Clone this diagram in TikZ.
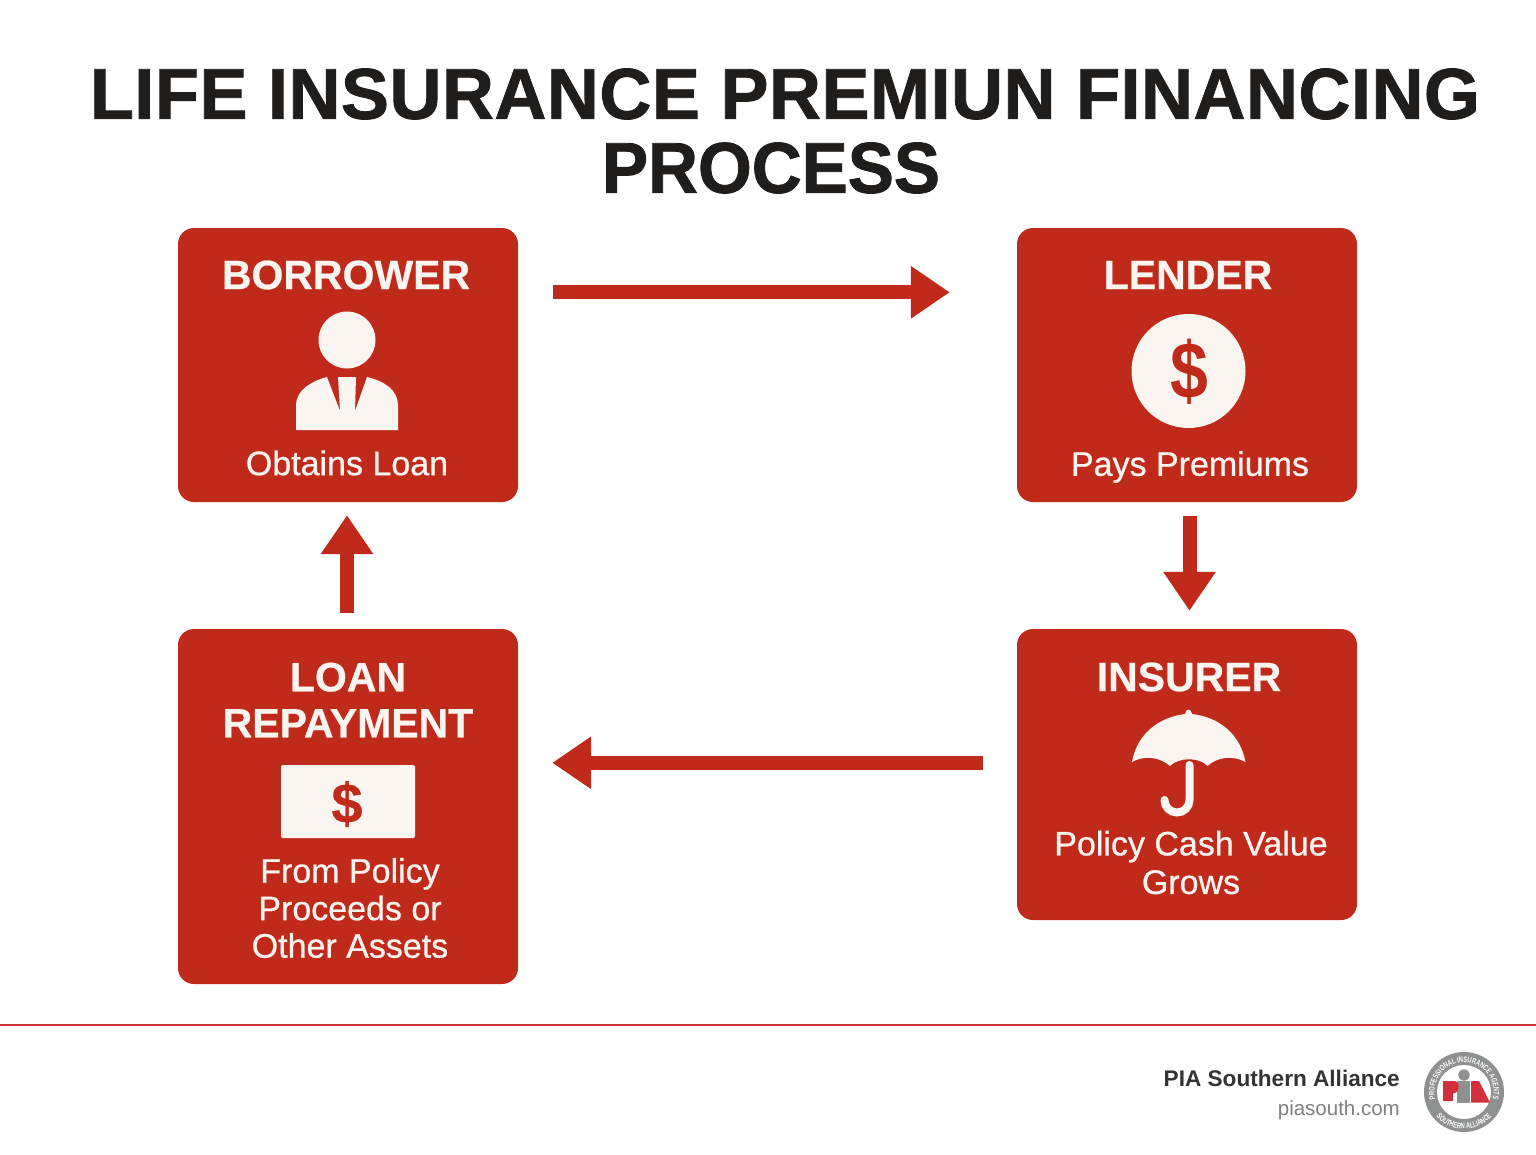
\documentclass[tikz,border=0pt]{standalone}
\usepackage{fontspec}
\setmainfont{Liberation Sans}
\newfontfamily\titlefont[BoldFeatures={FakeBold=1.2, LetterSpace=0.7}]{Liberation Sans}
\newfontfamily\titlenarrow[BoldFeatures={FakeBold=1.2, FakeStretch=0.96}]{Liberation Sans}
\newfontfamily\medfont[UprightFeatures={FakeBold=0.7}]{Liberation Sans}
\newfontfamily\headfont[BoldFeatures={FakeBold=0.5}]{Liberation Sans}
\newfontfamily\dollarfont[BoldFeatures={FakeStretch=0.85}]{Liberation Sans}
\newfontfamily\logofont[BoldFeatures={FakeStretch=0.72}]{Liberation Sans}
\usetikzlibrary{arrows.meta, positioning, decorations.text}
\definecolor{boxred}{HTML}{C02A1A}
\definecolor{offwhite}{HTML}{FAF5F0}
\definecolor{titleblack}{HTML}{1F1E1C}
\definecolor{rulered}{HTML}{D2303C}
\definecolor{logogray}{HTML}{8F9090}
\newcommand{\pxfont}[1]{\fontsize{#1}{#1}\selectfont}
\tikzset{
	stepbox/.style={fill=boxred, rounded corners=16pt, minimum width=340pt, inner sep=0pt},
	flowarrow/.style={draw=boxred, line width=14pt, -{Triangle[length=39pt, width=50pt]}},
	headlabel/.style={text=offwhite, font=\headfont\bfseries\pxfont{41}, inner sep=0pt},
	sublabel/.style={text=offwhite, font=\medfont\pxfont{34}, align=center, inner sep=0pt},
	iconfill/.style={fill=offwhite, draw=none},
}
\begin{document}
\begin{tikzpicture}[x=1pt, y=-1pt]
	\useasboundingbox (0,0) rectangle (1536,1154);
	\fill[white] (0,0) rectangle (1536,1154);

	% title
	\node[text=titleblack, font=\titlefont\bfseries\pxfont{72}, inner sep=0pt] (title1) at (785,94) {LIFE INSURANCE PREMIUN FINANCING};
	\node[text=titleblack, font=\titlenarrow\bfseries\pxfont{72}, inner sep=0pt] (title2) at (771,168) {PROCESS};

	% the four boxes
	\node[stepbox, minimum height=274pt] (borrower) at (348,365) {};
	\node[stepbox, minimum height=274pt] (lender) at (1187,365) {};
	\node[stepbox, minimum height=291pt] (insurer) at (1187,774.5) {};
	\node[stepbox, minimum height=355pt] (repayment) at (348,806.5) {};

	% arrows
	\draw[flowarrow] ([xshift=35pt, yshift=-64.5pt]borrower.north east) -- ([xshift=-67pt, yshift=-64.5pt]lender.north west);
	\draw[flowarrow] ([xshift=2.5pt, yshift=-14pt]lender.south) -- ([xshift=2.5pt, yshift=18pt]insurer.north);
	\draw[flowarrow] ([xshift=-34pt, yshift=-134pt]insurer.north west) -- ([xshift=34pt, yshift=-134pt]repayment.north east);
	\draw[flowarrow] ([xshift=-1pt, yshift=16pt]repayment.north) -- ([xshift=-1pt, yshift=-13pt]borrower.south);

	% borrower
	\node[headlabel] (borrowerhead) at (346,275) {BORROWER};
	\fill[iconfill] (347,340) circle (28.5pt);
	\fill[iconfill] (296,430) -- (296,405) .. controls (296,390) and (312,381) .. (327,377) -- (340,411) -- (338,377) -- (356,377) -- (355,411) -- (367,377) .. controls (384,381) and (398,390) .. (398,405) -- (398,430) -- cycle;
	\node[sublabel] (borrowersub) at (347,463) {Obtains Loan};

	% lender
	\node[headlabel] (lenderhead) at (1188,275) {LENDER};
	\fill[iconfill] (1188.5,371) circle (57pt);
	\node[text=boxred, font=\dollarfont\bfseries\pxfont{80}, inner sep=0pt] (lenderdollar) at (1189,372) {\$};
	\node[sublabel] (lendersub) at (1190,467) {Pays Premiums};

	% insurer
	\node[headlabel] (insurerhead) at (1189,677) {INSURER};
	\fill[iconfill] (1132,762) .. controls (1137,733) and (1160,717) .. (1185,714) .. controls (1186,708) and (1191,708) .. (1192,714) .. controls (1218,717) and (1240,733) .. (1245.5,762) .. controls (1233,755) and (1217,757) .. (1207.5,766) .. controls (1200,757) and (1178,757) .. (1170,766) .. controls (1160,757) and (1144,755) .. (1132,762) -- cycle;
	\draw[offwhite, line width=8pt, line cap=round] (1189.5,765) -- (1189.5,800) arc[start angle=0, end angle=-180, radius=12.5pt];
	\node[sublabel] (insurersub) at (1191,862.5) {Policy Cash Value\\[4.5pt]Grows};

	% repayment
	\node[headlabel, align=center] (repaymenthead) at (348,700) {LOAN\\[5pt]REPAYMENT};
	\fill[iconfill, rounded corners=2pt] (281,765) rectangle (415,838);
	\node[text=boxred, font=\headfont\bfseries\pxfont{56}, inner sep=0pt] (billdollar) at (347,804) {\$};
	\node[sublabel] (repaymentsub) at (350,908) {From Policy\\[3.5pt]Proceeds or\\[3.5pt]Other Assets};

	% footer
	\draw[rulered, line width=2.5pt] (0,1025) -- (1536,1025);
	\node[text=black!80, font=\bfseries\pxfont{22.6}, anchor=east, inner sep=0pt] (footname) at (1400,1078) {PIA Southern Alliance};
	\node[text=black!50, font=\pxfont{20.5}, anchor=east, inner sep=0pt] (footurl) at (1400,1110) {piasouth.com};

	% logo
	\begin{scope}[shift={(1464,1092)}, y=1pt]
		\fill[logogray] (0,0) circle (40pt);
		\fill[white] (0,0) circle (27pt);
		\path[decorate, decoration={text along path, text align=center, text={|\logofont\bfseries\pxfont{8}\color{white}|PROFESSIONAL INSURANCE AGENTS}}] (200:29.5pt) arc[start angle=200, end angle=-20, radius=29.5pt];
		\path[decorate, decoration={text along path, text align=center, text={|\logofont\bfseries\pxfont{8}\color{white}|SOUTHERN ALLIANCE}}] (215:37pt) arc[start angle=215, end angle=325, radius=37pt];
		\fill[logogray] (-7,11) -- (6,11) -- (6,-11) -- (-7,-11) -- cycle;
		\fill[logogray] (0,17) circle (5.7pt);
		\fill[rulered] (-21,11) -- (-9,11) .. controls (-4,11) and (-4,0) .. (-9,-1) -- (-11,-1) -- (-11,-9) -- (-21,-9) -- cycle;
		\fill[rulered] (7,11) -- (15,11) -- (26,-10.5) -- (7,-10.5) -- cycle;
	\end{scope}
\end{tikzpicture}
\end{document}
